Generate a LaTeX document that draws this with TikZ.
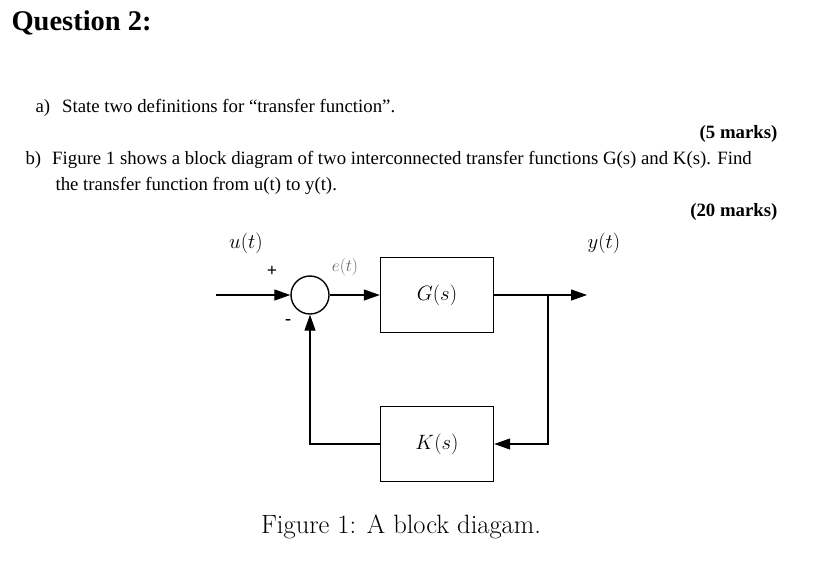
\documentclass[tikz,border=0pt]{standalone}
\usepackage{fontspec}
\setmainfont{Liberation Serif}
\newfontfamily\lmfont{Latin Modern Roman}
\usetikzlibrary{arrows.meta}
\begin{document}
\begin{tikzpicture}[x=1pt,y=-1pt,
  blk/.style={draw,line width=1.4pt,minimum width=113pt,minimum height=75pt,font=\fontsize{21}{24}\selectfont},
  sig/.style={line width=1.2pt,-{Triangle[length=16pt,width=11pt]}},
  txt/.style={anchor=base west,font=\fontsize{18.8}{22}\selectfont},
  mth/.style={font=\fontsize{21}{24}\selectfont}]
\useasboundingbox (0,0) rectangle (832,571);
\node[anchor=base west,font=\bfseries\fontsize{28.5}{32}\selectfont] (q) at (8,30) {Question 2:};
\node[txt] (a) at (32,112) {a)\hspace{12pt}State two definitions for “transfer function”.};
\node[anchor=base east,font=\bfseries\fontsize{18.8}{22}\selectfont] (m5) at (781,138) {(5 marks)};
\node[txt] (b) at (22,164) {b)\hspace{11pt}Figure 1 shows a block diagram of two interconnected transfer functions G(s) and K(s). Find};
\node[txt] (b2) at (52,190) {the transfer function from u(t) to y(t).};
\node[anchor=base east,font=\bfseries\fontsize{18.8}{22}\selectfont] (m20) at (781,216) {(20 marks)};
\node[circle,draw,line width=1.4pt,minimum size=38pt,inner sep=0pt] (sum) at (310,295) {};
\node[blk] (G) at (437,295) {$G(s)$};
\node[blk] (K) at (437,444) {$K(s)$};
\coordinate (in) at (216,295);
\coordinate (out) at (587,295);
\coordinate (br) at (548,295);
\coordinate (kc) at (548,444);
\coordinate (fb) at (310,444);
\draw[sig] (in) -- (sum.west);
\draw[sig] (sum.east) -- (G.west);
\draw[sig] (G.east) -- (out);
\draw[sig] (br) -- (kc) -- (K.east);
\draw[sig] (K.west) -- (fb) -- (sum.south);
\node[mth] (u) at (246,243) {$u(t)$};
\node[mth] (y) at (604,243) {$y(t)$};
\node[font=\bfseries\fontsize{18}{20}\selectfont] (pl) at (272,271) {+};
\node[font=\bfseries\fontsize{18}{20}\selectfont] (mi) at (288,322) {-};
\node[text=gray!80!black,font=\itshape\fontsize{17}{19}\selectfont] (e) at (345,267) {$e(t)$};
\node[font=\lmfont\fontsize{26.5}{30}\selectfont] (cap) at (401,527) {Figure 1: A block diagam.};
\end{tikzpicture}
\end{document}
